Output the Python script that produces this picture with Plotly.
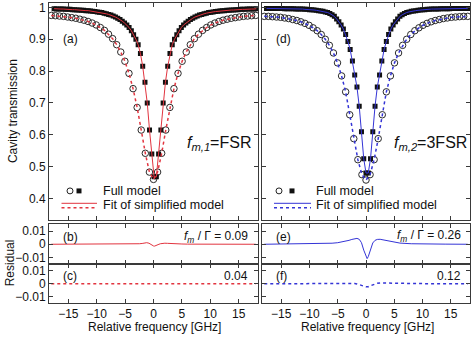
import plotly.graph_objects as go

# ---------------- data ----------------
SQ_FREQ_A = [-17.5,-17.1,-16.7,-16.3,-15.9,-15.5,-15.1,-14.7,-14.3,-13.9,-13.5,-13.1,-12.7,-12.3,-11.9,
             -11.5,-11.1,-10.7,-10.3,-9.9,-9.5,-9.1,-8.7,-8.3,-7.9,-7.5,-7.1,-6.7,-6.3,-5.9,-5.5,-5.1,
             -4.7,-4.3,-3.9,-3.5,-3.1,-2.7,-2.3,-1.9,-1.5,-1.1,-0.7,-0.3,0.1,
             0.5,0.9,1.3,1.7,2.1,2.5,2.9,3.3,3.7,4.1,4.5,4.9,5.3,5.7,6.1,6.5,6.9,7.3,7.7,8.1,8.5,8.9,
             9.3,9.7,10.1,10.5,10.9,11.3,11.7,12.1,12.5,12.9,13.3,13.7,14.1,14.5,14.9,15.3,15.7,16.1,
             16.5,16.9,17.3,17.7,18.1]
SQ_TRANS_A = [0.996,0.995,0.995,0.995,0.995,0.994,0.994,0.994,0.993,0.993,0.992,0.992,0.991,0.991,0.990,
              0.990,0.989,0.988,0.987,0.986,0.985,0.984,0.982,0.980,0.978,0.976,0.973,0.970,0.966,0.962,
              0.957,0.951,0.945,0.937,0.927,0.914,0.900,0.883,0.855,0.815,0.765,0.700,0.615,0.540,0.468,
              0.468,0.540,0.615,0.700,0.765,0.815,0.855,0.883,0.900,0.914,0.927,0.937,0.945,0.951,0.957,
              0.962,0.966,0.970,0.973,0.976,0.978,0.980,0.982,0.984,0.985,0.986,0.987,0.988,0.989,0.990,
              0.990,0.991,0.991,0.992,0.992,0.993,0.993,0.994,0.994,0.994,0.995,0.995,0.995,0.995,0.996]

SQ_FREQ_D = [-17.6,-17.2,-16.8,-16.4,-16.0,-15.6,-15.2,-14.8,-14.4,-14.0,-13.6,-13.2,-12.8,-12.4,-12.0,
             -11.6,-11.2,-10.8,-10.4,-10.0,-9.6,-9.2,-8.8,-8.4,-8.0,-7.6,-7.2,-6.8,-6.4,-6.0,-5.6,-5.2,
             -4.8,-4.4,-4.0,-3.6,-3.2,-2.8,-2.4,-2.0,-1.6,-1.2,-0.8,-0.4,0.0,
             0.4,0.8,1.2,1.6,2.0,2.4,2.8,3.2,3.6,4.0,4.4,4.8,5.2,5.6,6.0,6.4,6.8,7.2,7.6,8.0,8.4,8.8,
             9.2,9.6,10.0,10.4,10.8,11.2,11.6,12.0,12.4,12.8,13.2,13.6,14.0,14.4,14.8,15.2,15.6,16.0,
             16.4,16.8,17.2,17.6,18.0]
SQ_TRANS_D = [0.997,0.997,0.997,0.997,0.997,0.997,0.997,0.997,0.996,0.996,0.996,0.996,0.996,0.995,0.995,
              0.995,0.995,0.994,0.994,0.993,0.993,0.992,0.991,0.990,0.989,0.988,0.986,0.984,0.981,0.977,
              0.972,0.964,0.955,0.945,0.932,0.915,0.893,0.868,0.832,0.788,0.750,0.690,0.610,0.525,0.480,
              0.480,0.525,0.610,0.690,0.750,0.788,0.832,0.868,0.893,0.915,0.932,0.945,0.955,0.964,0.972,
              0.977,0.981,0.984,0.986,0.988,0.989,0.990,0.991,0.992,0.993,0.993,0.994,0.994,0.995,0.995,
              0.995,0.995,0.996,0.996,0.996,0.996,0.996,0.997,0.997,0.997,0.997,0.997,0.997,0.997,0.997]

CIRC_FREQ = [-18.0,-17.28,-16.56,-15.84,-15.12,-14.4,-13.68,-12.96,-12.24,-11.52,-10.8,-10.08,-9.36,
             -8.64,-7.92,-7.2,-6.48,-5.76,-5.04,-4.32,-3.6,-2.88,-2.16,-1.44,-0.72,0.0,
             0.72,1.44,2.16,2.88,3.6,4.32,5.04,5.76,6.48,7.2,7.92,8.64,9.36,10.08,10.8,11.52,12.24,
             12.96,13.68,14.4,15.12,15.84,16.56,17.28,18.0]
CIRC_TRANS_A = [0.975,0.974,0.973,0.972,0.970,0.968,0.966,0.963,0.960,0.956,0.951,0.945,0.937,0.928,
                0.916,0.902,0.883,0.860,0.831,0.793,0.745,0.686,0.615,0.542,0.483,0.460,0.483,0.542,
                0.615,0.686,0.745,0.793,0.831,0.860,0.883,0.902,0.916,0.928,0.937,0.945,0.951,0.956,
                0.960,0.963,0.966,0.968,0.970,0.972,0.973,0.974,0.975]
CIRC_TRANS_D = [0.972,0.972,0.971,0.970,0.969,0.967,0.965,0.962,0.959,0.955,0.950,0.944,0.936,0.927,
                0.915,0.900,0.881,0.857,0.826,0.785,0.735,0.663,0.588,0.522,0.475,0.458,0.475,0.522,
                0.588,0.663,0.735,0.785,0.826,0.857,0.881,0.900,0.915,0.927,0.936,0.944,0.950,0.955,
                0.959,0.962,0.965,0.967,0.969,0.970,0.971,0.972,0.972]

RES_FREQ = [-18,-14,-10,-8,-6,-5,-4,-3.5,-3,-2.5,-2,-1.6,-1.2,-0.8,-0.4,0,0.2,0.4,0.8,1.2,1.6,2,
            2.5,3,3.5,4,5,6,8,10,14,18]
RES_B = [0,0,0,0,0.0001,0.0001,0.0002,0.0002,0.0003,0.0004,0.0006,0.0009,0.0012,0.0008,-0.0004,
         -0.0013,-0.0014,-0.0012,-0.0003,0.0004,0.0007,0.0008,0.0007,0.0005,0.0004,0.0003,0.0002,
         0.0001,0,0,0,0]
RES_C = [0,0,0,0,0,0,0,0,0,0.0001,0.0001,0.0001,0,0,-0.0001,-0.0004,-0.0004,-0.0003,-0.0001,0,
         0.0001,0.0001,0.0001,0,0,0,0,0,0,0,0,0]
RES_E = [0,0.0001,0.0002,0.0004,0.0008,0.0012,0.0019,0.0024,0.0030,0.0037,0.0043,0.0045,0.0038,
         0.0012,-0.0045,-0.0098,-0.0110,-0.0095,-0.0035,0.0010,0.0030,0.0037,0.0038,0.0034,0.0028,
         0.0022,0.0014,0.0009,0.0004,0.0002,0.0001,0]
RES_F = [0,0,0.0001,0.0002,0.0003,0.0004,0.0005,0.0005,0.0005,0.0004,0.0002,-0.0001,-0.0005,
         -0.0011,-0.0018,-0.0023,-0.0025,-0.0023,-0.0015,-0.0007,0,0.0004,0.0006,0.0006,0.0006,
         0.0005,0.0004,0.0003,0.0002,0.0001,0,0]

TRANS_TICKS = [0.4, 0.5, 0.6, 0.7, 0.8, 0.9, 1.0]
RES_TICKS = [-0.01, 0, 0.01]
RES_TICKTEXT = ["\u22120.01", "0", "0.01"]
FREQ_TICKS = [-15, -10, -5, 0, 5, 10, 15]

# ---------------- styling ----------------
W, H = 474, 359
FONT = "Liberation Sans, Arial, Helvetica, sans-serif"
RED = "#e2343f"
BLUE = "#3434d6"
MK = "#111111"
AX = "#3a3a3a"


def px(x):
    return x / W


def py(y):
    return 1 - y / H


fig = go.Figure()


def add_top(xa, ya, fs, ys, fc, yc, col):
    fig.add_trace(go.Scatter(x=fc, y=yc, mode="markers", xaxis=xa, yaxis=ya,
                             marker=dict(symbol="circle-open", size=6.5, color="#2a2a2a",
                                         line=dict(width=1, color="#2a2a2a"))))
    fig.add_trace(go.Scatter(x=fs, y=ys, mode="markers", xaxis=xa, yaxis=ya,
                             marker=dict(symbol="square", size=5, color=MK, line=dict(width=0))))
    fig.add_trace(go.Scatter(x=fc, y=yc, mode="lines", xaxis=xa, yaxis=ya,
                             line=dict(color=col, width=1.5, dash="dot")))
    fig.add_trace(go.Scatter(x=fs, y=ys, mode="lines", xaxis=xa, yaxis=ya,
                             line=dict(color=col, width=1)))


add_top("x", "y", SQ_FREQ_A, SQ_TRANS_A, CIRC_FREQ, CIRC_TRANS_A, RED)
add_top("x2", "y2", SQ_FREQ_D, SQ_TRANS_D, CIRC_FREQ, CIRC_TRANS_D, BLUE)

fig.add_trace(go.Scatter(x=RES_FREQ, y=RES_B, mode="lines", xaxis="x3", yaxis="y3",
                         line=dict(color=RED, width=1)))
fig.add_trace(go.Scatter(x=RES_FREQ, y=RES_E, mode="lines", xaxis="x4", yaxis="y4",
                         line=dict(color=BLUE, width=1)))
fig.add_trace(go.Scatter(x=RES_FREQ, y=RES_C, mode="lines", xaxis="x5", yaxis="y5",
                         line=dict(color=RED, width=1.5, dash="dot")))
fig.add_trace(go.Scatter(x=RES_FREQ, y=RES_F, mode="lines", xaxis="x6", yaxis="y6",
                         line=dict(color=BLUE, width=1.5, dash="dot")))

XL = [px(49), px(258)]
XR = [px(262), px(470)]
Y_TOP = [py(220), py(1)]
Y_B = [py(264.3), py(224.3)]
Y_C = [py(303.3), py(264.3)]
XRANGE = [-18.4, 18.4]


def axis(**kw):
    d = dict(showline=True, linecolor=AX, linewidth=1, mirror="allticks", ticks="inside",
             ticklen=4, tickcolor=AX, tickwidth=1, showgrid=False, zeroline=False,
             ticklabeloverflow="allow",
             tickfont=dict(family=FONT, size=12, color="#111"))
    d.update(kw)
    return d


layout = dict(
    width=W, height=H, margin=dict(l=0, r=0, t=0, b=0),
    plot_bgcolor="white", paper_bgcolor="white", showlegend=False,
    font=dict(family=FONT, size=12, color="#111"),
    xaxis=axis(domain=XL, range=XRANGE, tickvals=FREQ_TICKS, showticklabels=False, anchor="y"),
    yaxis=axis(domain=Y_TOP, range=[0.332, 1.014], tickvals=TRANS_TICKS, anchor="x"),
    xaxis2=axis(domain=XR, range=XRANGE, tickvals=FREQ_TICKS, showticklabels=False, anchor="y2"),
    yaxis2=axis(domain=Y_TOP, range=[0.332, 1.014], tickvals=TRANS_TICKS, showticklabels=False,
                anchor="x2"),
    xaxis3=axis(domain=XL, range=XRANGE, tickvals=FREQ_TICKS, showticklabels=False, anchor="y3"),
    yaxis3=axis(domain=Y_B, range=[-0.0152, 0.0152], tickvals=RES_TICKS, ticktext=RES_TICKTEXT,
                anchor="x3"),
    xaxis4=axis(domain=XR, range=XRANGE, tickvals=FREQ_TICKS, showticklabels=False, anchor="y4"),
    yaxis4=axis(domain=Y_B, range=[-0.0152, 0.0152], tickvals=RES_TICKS, showticklabels=False,
                anchor="x4"),
    xaxis5=axis(domain=XL, range=XRANGE, tickvals=FREQ_TICKS, anchor="y5"),
    yaxis5=axis(domain=Y_C, range=[-0.0145, 0.0150], tickvals=RES_TICKS, ticktext=RES_TICKTEXT,
                anchor="x5"),
    xaxis6=axis(domain=XR, range=XRANGE, tickvals=FREQ_TICKS, anchor="y6"),
    yaxis6=axis(domain=Y_C, range=[-0.0145, 0.0150], tickvals=RES_TICKS, showticklabels=False,
                anchor="x6"),
)
fig.update_layout(**layout)


def note(text, x, y, xanchor="left", size=12, angle=0):
    fig.add_annotation(text=text, x=px(x), y=py(y), xref="paper", yref="paper",
                       xanchor=xanchor, yanchor="middle", showarrow=False, textangle=angle,
                       font=dict(family=FONT, size=size, color="#111"))


note("(a)", 61, 37.5)
note("(d)", 274, 37.5)
note("<i>f</i><sub><i>m,1</i></sub>=FSR", 185, 143, size=16)
note("<i>f</i><sub><i>m,2</i></sub>=3FSR", 392, 143, size=16)
note("(b)", 61, 236.5)
note("(e)", 274, 236.5)
note("(c)", 61, 276)
note("(f)", 274, 276)
note("<i>f</i><sub><i>m</i></sub> / \u0393 = 0.09", 250, 237, xanchor="right")
note("<i>f</i><sub><i>m</i></sub> / \u0393 = 0.26", 463, 236, xanchor="right")
note("0.04", 250, 276, xanchor="right")
note("0.12", 463, 276, xanchor="right")
note("Cavity transmission", 13, 110, xanchor="center", angle=-90)
note("Residual", 10, 263.5, xanchor="center", angle=-90)
note("Relative frequency [GHz]", 154, 328, xanchor="center")
note("Relative frequency [GHz]", 367, 328, xanchor="center")

# legends (decorations in paper coordinates)
for (cx, sx, tx, lx0, lx1, col) in [(70, 79, 101, 61.5, 97, RED), (279, 292, 314, 274, 311, BLUE)]:
    fig.add_shape(type="circle", xref="paper", yref="paper",
                  x0=px(cx - 3), x1=px(cx + 3), y0=py(190.5 + 3), y1=py(190.5 - 3),
                  line=dict(color="#222", width=1))
    fig.add_shape(type="rect", xref="paper", yref="paper",
                  x0=px(sx - 2.5), x1=px(sx + 2.5), y0=py(190.5 + 2.5), y1=py(190.5 - 2.5),
                  line=dict(width=0), fillcolor=MK)
    fig.add_shape(type="line", xref="paper", yref="paper",
                  x0=px(lx0), x1=px(lx1), y0=py(203), y1=py(203), line=dict(color=col, width=1))
    fig.add_shape(type="line", xref="paper", yref="paper",
                  x0=px(lx0), x1=px(lx1), y0=py(207.5), y1=py(207.5),
                  line=dict(color=col, width=1.5, dash="dot"))
    note("Full model", tx, 190.5, size=12.5)
    note("Fit of simplified model", tx, 205, size=12.5)

fig.write_html("out.html", config={"displayModeBar": False},
               post_script="document.body.style.margin='0';document.body.style.overflow='hidden';")
